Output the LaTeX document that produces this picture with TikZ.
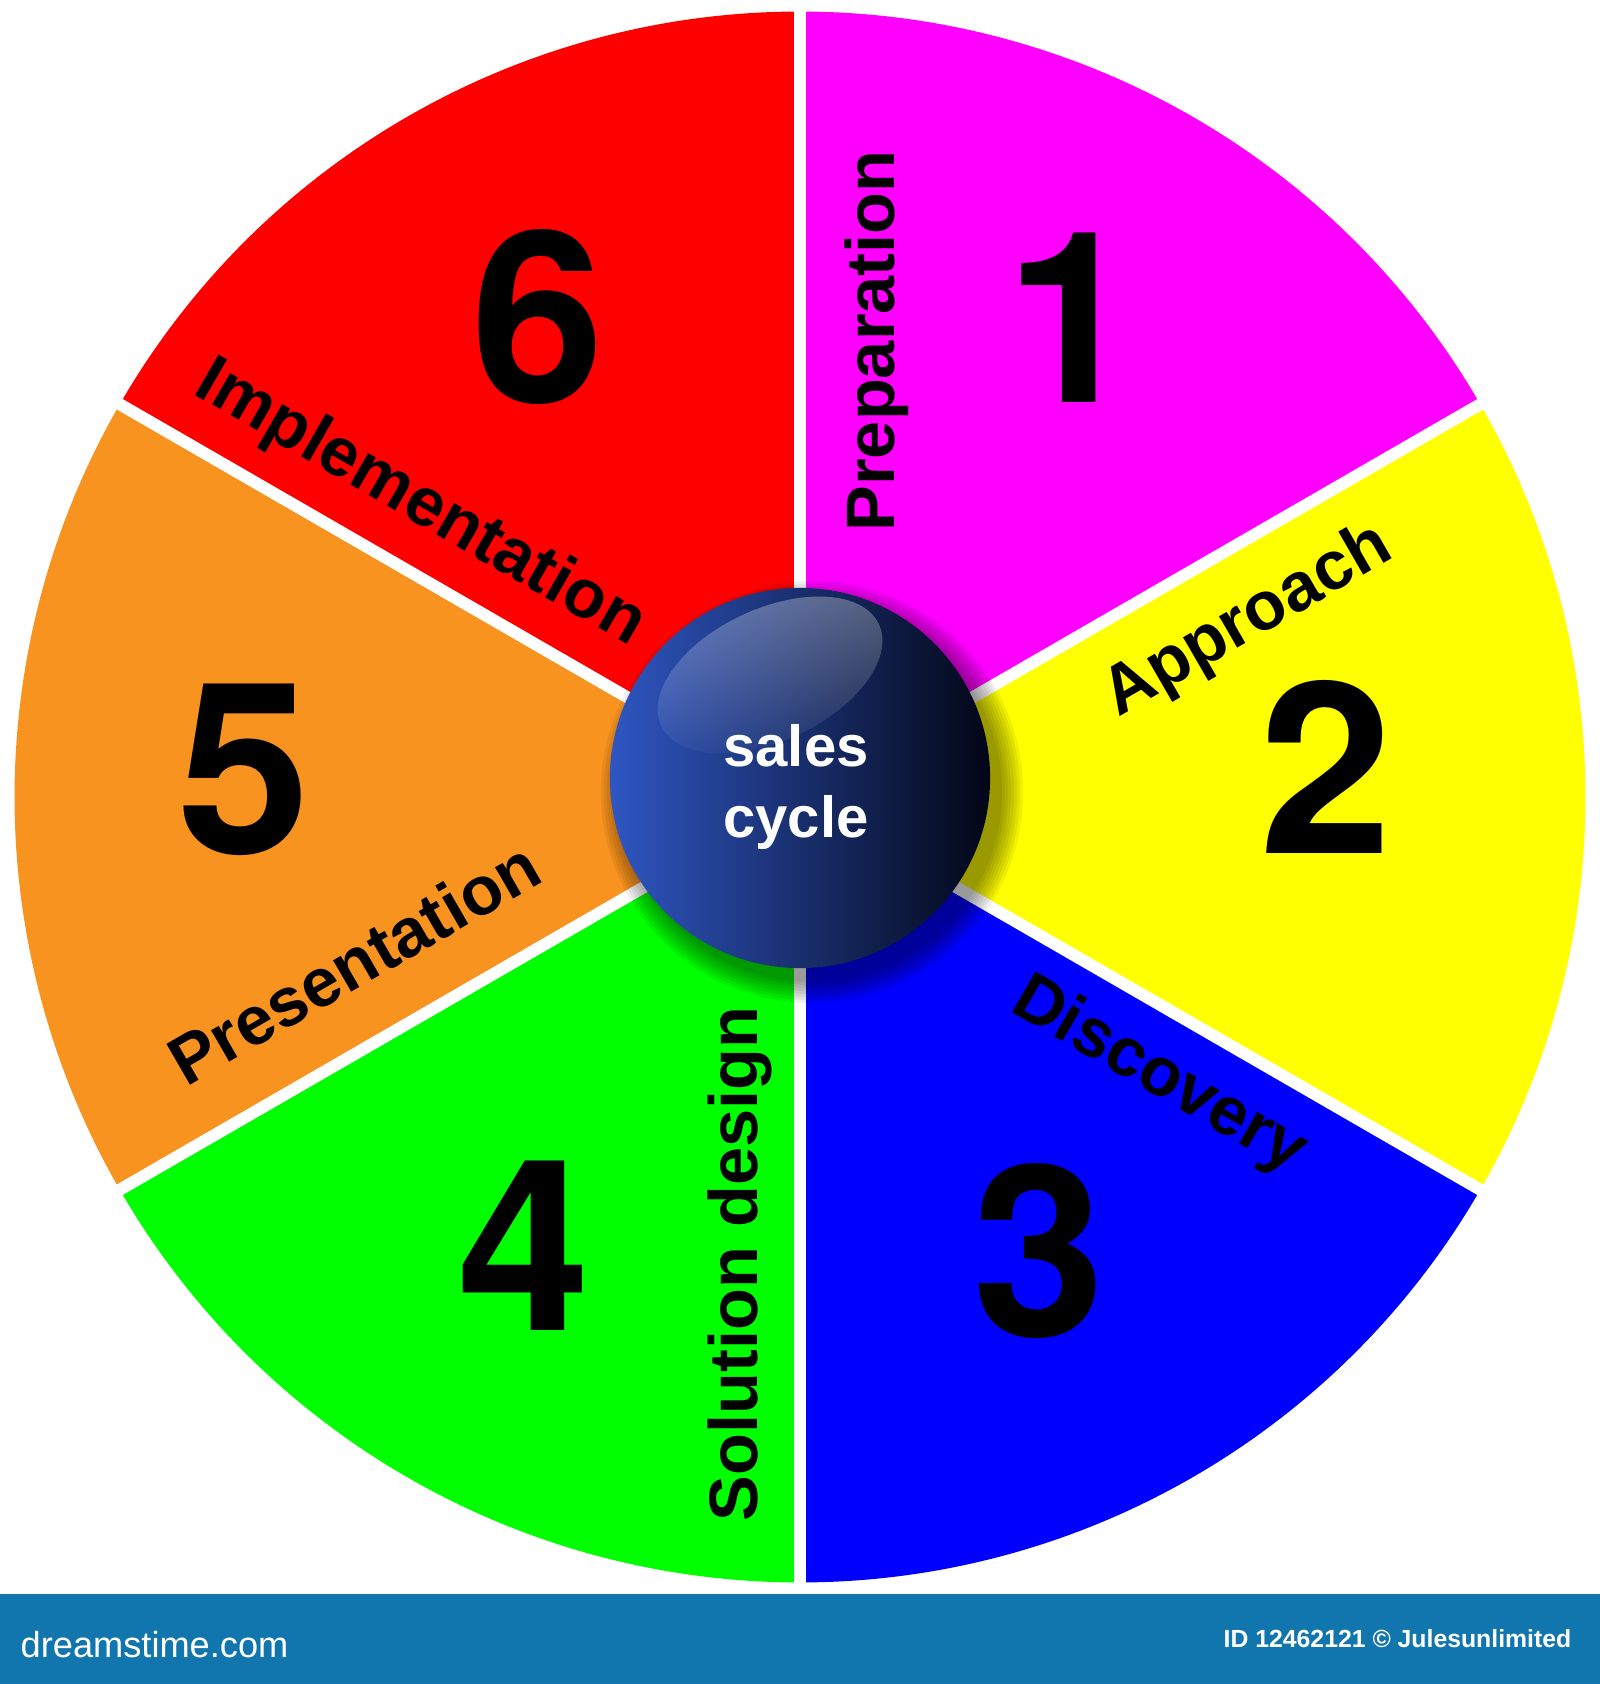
\documentclass[tikz,border=0pt]{standalone}
\usepackage{fontspec}
\setmainfont{Liberation Sans}
\newfontfamily\numfont{TeX Gyre Heros}
\usetikzlibrary{fadings}
\definecolor{cmag}{HTML}{FF00FF}
\definecolor{cyel}{HTML}{FFFF00}
\definecolor{cblu}{HTML}{0000FF}
\definecolor{cgrn}{HTML}{00FF00}
\definecolor{corg}{HTML}{F7931E}
\definecolor{cred}{HTML}{FF0000}
\definecolor{ballL}{HTML}{2F56C2}
\definecolor{ballM}{HTML}{1B357F}
\definecolor{ballR}{HTML}{020617}
\definecolor{barblue}{HTML}{1276AE}
\tikzfading[name=hlfade, top color=transparent!68, bottom color=transparent!98]
\begin{document}
\begin{tikzpicture}[x=0.01cm,y=0.01cm,
  divider/.style={white, line width=0.12cm},
  numlabel/.style={font=\fontsize{68pt}{68pt}\numfont\bfseries, anchor=base, inner sep=0pt},
  steplabel/.style={font=\fontsize{19.5pt}{19.5pt}\selectfont\bfseries, anchor=base, inner sep=0pt},
  balltext/.style={font=\fontsize{16.5pt}{16.5pt}\selectfont\bfseries, text=white, anchor=base, inner sep=0pt},
  bartext/.style={text=white, inner sep=0pt}]
\useasboundingbox (0,0) rectangle (1600,1684);
\fill[white] (0,0) rectangle (1600,1684);
\coordinate (C) at (800,887);
% sectors
\fill[cmag] (C) -- ++(30:7.85cm) arc[start angle=30, end angle=90, radius=7.85cm] -- cycle;
\fill[cyel] (C) -- ++(-30:7.85cm) arc[start angle=-30, end angle=30, radius=7.85cm] -- cycle;
\fill[cblu] (C) -- ++(-90:7.85cm) arc[start angle=-90, end angle=-30, radius=7.85cm] -- cycle;
\fill[cgrn] (C) -- ++(-150:7.85cm) arc[start angle=-150, end angle=-90, radius=7.85cm] -- cycle;
\fill[corg] (C) -- ++(150:7.85cm) arc[start angle=150, end angle=210, radius=7.85cm] -- cycle;
\fill[cred] (C) -- ++(90:7.85cm) arc[start angle=90, end angle=150, radius=7.85cm] -- cycle;
% dividers
\foreach \a in {90,30,-30,-90,-150,150}
  \draw[divider] (C) -- ++(\a:7.95cm);
% numbers
\node[numlabel] (n1) at (1072,1281) {1};
\node[numlabel] (n2) at (1326,830) {2};
\node[numlabel] (n3) at (1039,347) {3};
\node[numlabel] (n4) at (524,353) {4};
\node[numlabel] (n5) at (244,830) {5};
\node[numlabel] (n6) at (538,1281) {6};
% step labels
\node[steplabel, rotate=90] (l1) at (894,1343) {Preparation};
\node[steplabel, rotate=30] (l2) at (1257,1047) {Approach};
\node[steplabel, rotate=-30] (l3) at (1150,592) {Discovery};
\node[steplabel, rotate=90] (l4) at (757,420) {Solution design};
\node[steplabel, rotate=30] (l5) at (366,700) {Presentation};
\node[steplabel, rotate=-30] (l6) at (411,1164) {Implementation};
% ball
\coordinate (B) at (800,906);
\coordinate (S) at (812,892);
\foreach \r in {1.90,1.93,1.96,1.99,2.02,2.05,2.08,2.11}
  \fill[black, opacity=0.06] (S) circle[radius=\r cm];
\shade[left color=ballL, middle color=ballM, right color=ballR] (B) circle[radius=1.9cm];
\begin{scope}[shift={(770,1009)}, rotate=25]
  \fill[white, path fading=hlfade] (0,0) ellipse[x radius=1.2cm, y radius=0.66cm];
\end{scope}
\node[balltext] (t1) at (796,917) {sales};
\node[balltext] (t2) at (796,846) {cycle};
% bottom bar
\fill[barblue] (0,0) rectangle (1600,90);
\node[bartext, font=\fontsize{10.3pt}{10.3pt}\selectfont, anchor=base west] (logo) at (20,27) {dreamstime.com};
\node[bartext, font=\fontsize{7.05pt}{7.05pt}\selectfont\bfseries, anchor=base east] (credit) at (1572,37) {ID 12462121 © Julesunlimited};
\end{tikzpicture}
\end{document}
